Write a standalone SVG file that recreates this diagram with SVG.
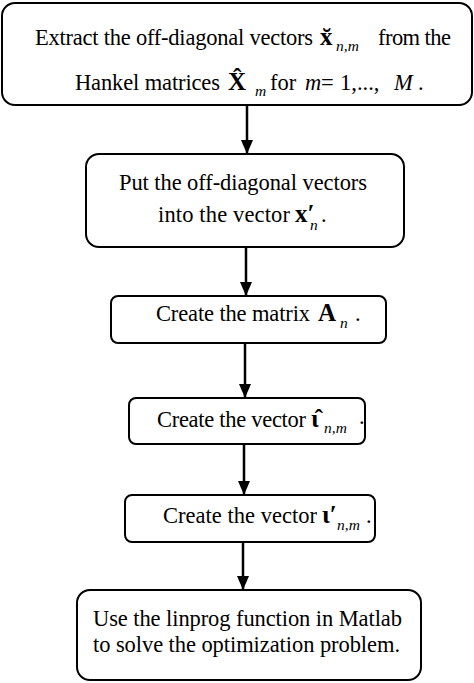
<svg xmlns="http://www.w3.org/2000/svg" width="474" height="683" viewBox="0 0 474 683">
<style>
.box{fill:#fff;stroke:#000;stroke-width:2}
.t{font-family:"Liberation Serif","Times New Roman",serif;font-size:22.5px;fill:#000}
.b{font-weight:bold;font-size:25px}
.i{font-style:italic}
.s{font-size:15.5px;font-style:italic}
.c{stroke:#000;stroke-width:2.5;fill:none}
</style>
<defs>
<marker id="ah" markerWidth="14" markerHeight="12" refX="14" refY="6" orient="auto" markerUnits="userSpaceOnUse" viewBox="0 0 14 12">
<path d="M0,0 L14,6 L0,12 Z" fill="#000"/>
</marker>
</defs>
<rect width="474" height="683" fill="#fff"/>
<g id="connectors">
<line class="c" x1="247" y1="106" x2="247" y2="154" marker-end="url(#ah)"/>
<line class="c" x1="246" y1="248" x2="246" y2="296" marker-end="url(#ah)"/>
<line class="c" x1="245" y1="344" x2="245" y2="398" marker-end="url(#ah)"/>
<line class="c" x1="244" y1="445" x2="244" y2="495" marker-end="url(#ah)"/>
<line class="c" x1="243" y1="543" x2="243" y2="590" marker-end="url(#ah)"/>
</g>
<g id="n1">
<rect class="box" x="2" y="3" width="470" height="102" rx="13"/>
<text class="t" x="35" y="45" textLength="278">Extract the off-diagonal vectors</text>
<text class="t b" x="320" y="45">x̆</text>
<text class="t s" x="336" y="51">n,m</text>
<text class="t" x="378" y="45" textLength="73">from the</text>
<text class="t" x="75" y="90" textLength="145">Hankel matrices</text>
<text class="t b" x="228" y="90">X̂</text>
<text class="t s" x="255" y="96">m</text>
<text class="t" x="270" y="90">for</text>
<text class="t i" x="305" y="90">m</text>
<text class="t" x="321" y="90">=</text>
<text class="t" x="340" y="90">1,...,</text>
<text class="t i" x="394" y="90">M</text>
<text class="t" x="418" y="90">.</text>
</g>
<g id="n2">
<rect class="box" x="86" y="154" width="318" height="93" rx="13"/>
<text class="t" x="119" y="190" textLength="248">Put the off-diagonal vectors</text>
<text class="t" x="158" y="222" textLength="132">into the vector</text>
<text class="t b" x="295" y="222">x′</text>
<text class="t s" x="310" y="230">n</text>
<text class="t" x="321" y="222">.</text>
</g>
<g id="n3">
<rect class="box" x="111" y="296" width="275" height="47" rx="7"/>
<text class="t" x="156" y="321" textLength="154">Create the matrix</text>
<text class="t b" x="318" y="321">A</text>
<text class="t s" x="340" y="328">n</text>
<text class="t" x="355" y="321">.</text>
</g>
<g id="n4">
<rect class="box" x="129" y="398" width="236" height="46" rx="7"/>
<text class="t" x="157" y="427" textLength="149">Create the vector</text>
<text class="t b" x="311" y="427">ι̂</text>
<text class="t s" x="324" y="433">n,m</text>
<text class="t" x="359" y="424" font-size="12">.</text>
</g>
<g id="n5">
<rect class="box" x="125" y="495" width="250" height="47" rx="7"/>
<text class="t" x="163" y="523" textLength="154">Create the vector</text>
<text class="t b" x="322" y="523">ι′</text>
<text class="t s" x="337" y="530">n,m</text>
<text class="t" x="366" y="523">.</text>
</g>
<g id="n6">
<rect class="box" x="77" y="590" width="344" height="90" rx="13"/>
<text class="t" x="93" y="626" font-size="23" textLength="309">Use the linprog function in Matlab</text>
<text class="t" x="93" y="652" font-size="23" textLength="307">to solve the optimization problem.</text>
</g>
</svg>
